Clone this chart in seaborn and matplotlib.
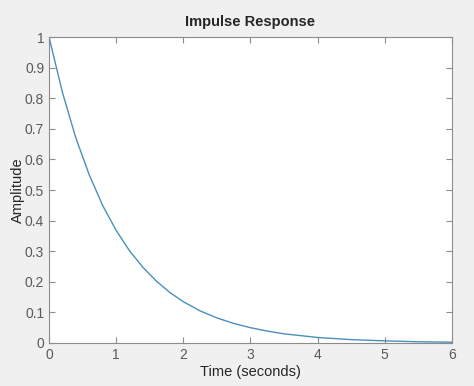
import matplotlib

matplotlib.use("Agg")

import matplotlib.pyplot as plt  # noqa: E402
import pandas as pd  # noqa: E402
import seaborn as sns  # noqa: E402

# Curve (time in seconds, amplitude)
time_s = [0.0, 0.2, 0.4, 0.6, 0.8, 1.0, 1.2, 1.4, 1.6, 1.8, 2.0, 2.25, 2.5,
          2.75, 3.0, 3.25, 3.5, 3.75, 4.0, 4.5, 5.0, 5.5, 6.0]
amplitude = [1.0, 0.819, 0.670, 0.549, 0.449, 0.368, 0.301, 0.247, 0.202,
             0.165, 0.135, 0.105, 0.082, 0.064, 0.050, 0.039, 0.030, 0.024,
             0.018, 0.011, 0.007, 0.004, 0.0025]
x_ticks = [0, 1, 2, 3, 4, 5, 6]
y_ticks = [0, 0.1, 0.2, 0.3, 0.4, 0.5, 0.6, 0.7, 0.8, 0.9, 1]

_BG = "#f0f0f0"
_LINE = "#4a8fbb"
_AXIS = "#8c8c8c"
_TEXT = "#5a5a5a"

sns.set_style("ticks")
plt.rcParams["font.family"] = ["Liberation Sans", "DejaVu Sans"]

df = pd.DataFrame({"t": time_s, "y": amplitude})

fig = plt.figure(figsize=(4.74, 3.86), dpi=100, facecolor=_BG)
ax = fig.add_axes([0.1034, 0.1114, 0.850, 0.7927])
sns.lineplot(data=df, x="t", y="y", color=_LINE, linewidth=1.0, ax=ax)

ax.set_xlim(0, 6)
ax.set_ylim(0, 1)
ax.set_xticks(x_ticks)
ax.set_xticklabels([str(v) for v in x_ticks])
ax.set_yticks(y_ticks)
ax.set_yticklabels(["0", "0.1", "0.2", "0.3", "0.4", "0.5", "0.6", "0.7",
                    "0.8", "0.9", "1"])
ax.tick_params(direction="in", length=4, width=0.8, colors=_AXIS,
               labelcolor=_TEXT, labelsize=10, top=True, right=True)
for spine in ax.spines.values():
    spine.set_visible(True)
    spine.set_color(_AXIS)
    spine.set_linewidth(0.8)
ax.set_facecolor("white")

ax.set_xlabel("Time (seconds)", fontsize=10.5, color="#262626", labelpad=2)
ax.set_ylabel("Amplitude", fontsize=10.5, color="#262626", labelpad=0)
ax.set_title("Impulse Response", fontsize=10.5, fontweight="bold",
             color="#262626", pad=8)

fig.savefig("out.png", dpi=100, facecolor=_BG)
plt.close(fig)
